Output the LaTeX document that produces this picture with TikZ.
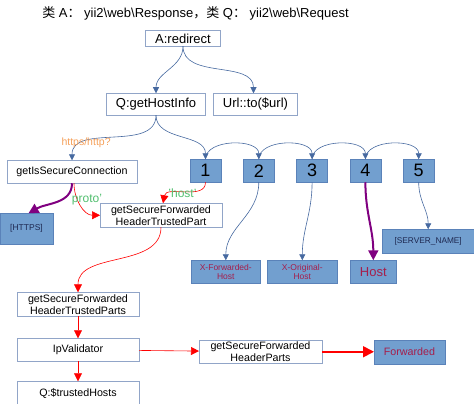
\documentclass[tikz,border=0pt]{standalone}
\usepackage{fontspec}
\setmainfont{Liberation Sans}
\newfontfamily\cjk{Noto Sans CJK SC}
\usetikzlibrary{arrows.meta, positioning}
\usepackage{xcolor}
\definecolor{keyBlue}{RGB}{114,159,207}
\definecolor{keyEdge}{RGB}{90,130,185}
\definecolor{funcEdge}{RGB}{145,165,200}
\definecolor{linkBlue}{RGB}{70,105,160}
\definecolor{keyRed}{RGB}{165,30,75}
\definecolor{keyNavy}{RGB}{30,40,80}
\definecolor{tagOrange}{RGB}{245,160,90}
\definecolor{tagGreen}{RGB}{80,190,110}
\definecolor{boldPurple}{RGB}{128,0,128}

\begin{document}
\begin{tikzpicture}[
    func/.style={rectangle, draw=funcEdge, line width=0.8pt, fill=white, inner sep=0pt, outer sep=0pt, align=center, minimum width=122pt, minimum height=24pt, font=\fontsize{10.7}{12}\selectfont},
    topfunc/.style={func, minimum height=22pt, font=\fontsize{13}{15}\selectfont},
    numbox/.style={rectangle, draw=keyEdge, fill=keyBlue, inner sep=0pt, outer sep=0pt, minimum width=31pt, minimum height=23pt, font=\fontsize{18}{18}\selectfont},
    keybox/.style={rectangle, draw=keyEdge, fill=keyBlue, text=keyRed, inner sep=0pt, outer sep=0pt, align=center, minimum height=23pt, font=\fontsize{8.5}{9.5}\selectfont},
    tag/.style={inner sep=0pt, font=\fontsize{12}{12}\selectfont},
    arrow/.style={-{Triangle[length=6pt,width=6pt]}, draw=linkBlue, line width=0.6pt},
    redarrow/.style={-{Triangle[length=8pt,width=8pt]}, draw=red, line width=0.6pt},
    boldarrow/.style={-{Triangle[length=10pt,width=10pt]}, draw=boldPurple, line width=2pt},
    redbold/.style={-{Triangle[length=11pt,width=11pt]}, draw=red, line width=1.8pt}
]
\useasboundingbox (0,0) rectangle (474pt,-404pt);

\node[topfunc, minimum width=75pt, minimum height=15.5pt] (redirect) at (183pt,-38.5pt) {A:redirect};

\node[above=10pt of redirect, xshift=12.5pt, inner sep=0pt, font=\fontsize{13}{15}\selectfont] (title)
    {{\cjk 类} A{\cjk ：} yii2\textbackslash web\textbackslash Response{\cjk ，}{\cjk 类} Q{\cjk ：} yii2\textbackslash web\textbackslash Request};

\node[topfunc, minimum width=99pt, below=47pt of redirect, xshift=-27pt] (hostinfo) {Q:getHostInfo};
\node[topfunc, minimum width=84pt, right=8pt of hostinfo] (urlto) {Url::to(\$url)};

\node[func, minimum width=130pt, minimum height=23pt, below=45pt of hostinfo, xshift=-84pt] (secure) {getIsSecureConnection};
\node[keybox, text=keyNavy, minimum width=53pt, minimum height=31pt, below=30pt of secure, xshift=-45.5pt] (https) {[HTTPS]};
\node[func, below=20pt of secure, xshift=89pt] (trustedpart) {getSecureForwarded\\HeaderTrustedPart};

\node[numbox, below=44pt of hostinfo, xshift=49.5pt] (n1) {1};
\node[numbox, right=22.3pt of n1] (n2) {2};
\node[numbox, right=22.3pt of n2] (n3) {3};
\node[numbox, right=22.3pt of n3] (n4) {4};
\node[numbox, right=22.3pt of n4] (n5) {5};

\node[keybox, minimum width=69pt, below=78pt of n2, xshift=-33pt] (xfwd) {X-Forwarded-\\Host};
\node[keybox, minimum width=70pt, right=7pt of xfwd] (xorig) {X-Original-\\Host};
\node[keybox, minimum width=46pt, right=13pt of xorig, font=\fontsize{13}{15}\selectfont] (host) {Host};
\node[keybox, text=keyNavy, minimum width=92pt, minimum height=24pt, below=47pt of n5, xshift=9.5pt, font=\fontsize{8.3}{9.5}\selectfont] (server) {[SERVER\_NAME]};

\node[func, below=65pt of trustedpart, xshift=-83pt] (trustedparts) {getSecureForwarded\\HeaderTrustedParts};
\node[func, minimum height=23pt, below=22pt of trustedparts] (ipval) {IpValidator};
\node[func, below=20pt of ipval] (trustedhosts) {Q:\$trustedHosts};
\node[func, minimum width=123pt, minimum height=23pt, right=60pt of ipval, yshift=-2pt] (headerparts) {getSecureForwarded\\HeaderParts};
\node[keybox, minimum width=71pt, minimum height=24pt, right=52pt of headerparts, font=\fontsize{10.7}{12}\selectfont] (forwarded) {Forwarded};

% blue calls
\draw[arrow] (redirect.south) to[out=-90,in=90] (hostinfo.north);
\draw[arrow] (redirect.south) to[out=-90,in=90] ([xshift=-2pt]urlto.north);
\draw[arrow] (hostinfo.south) to[out=-90,in=90]
    node[tag, pos=0.74, text=tagOrange, font=\fontsize{10.5}{10.5}\selectfont] {https/http?} (secure.north);
\draw[arrow] (hostinfo.south) to[out=-90,in=90] (n1.north);
\draw[arrow] (n1.north) to[out=90,in=90] (n2.north);
\draw[arrow] (n2.north) to[out=90,in=90] (n3.north);
\draw[arrow] (n3.north) to[out=90,in=90] (n4.north);
\draw[arrow] (n4.north) to[out=90,in=90] (n5.north);
\draw[arrow] (n2.south) to[out=-90,in=90] (xfwd.north);
\draw[arrow] (n3.south) to[out=-90,in=90] (xorig.north);
\draw[arrow] (n5.south) to[out=-90,in=90] (server.north);

% results
\draw[boldarrow] (n4.south) to[out=-90,in=90] (host.north);
\draw[boldarrow] (secure.south) to[out=-90,in=30] ([xshift=2pt]https.north);

% forwarded headers
\draw[redarrow] ([xshift=2pt]secure.south) to[out=-90,in=180]
    node[tag, pos=0.35, xshift=9.5pt, text=tagGreen] {proto'} (trustedpart.west);
\draw[redarrow] (n1.south) to[out=-90,in=80]
    node[tag, pos=0.5, xshift=-3pt, text=tagGreen] {'host'} ([xshift=2pt]trustedpart.north);
\draw[redarrow] (trustedpart.south) to[out=-90,in=90] (trustedparts.north);
\draw[redarrow] (trustedparts) -- (ipval);
\draw[redarrow] (ipval) -- (trustedhosts);
\draw[redarrow] (ipval) -- (headerparts);
\draw[redbold] (headerparts) -- (forwarded);

\end{tikzpicture}
\end{document}
